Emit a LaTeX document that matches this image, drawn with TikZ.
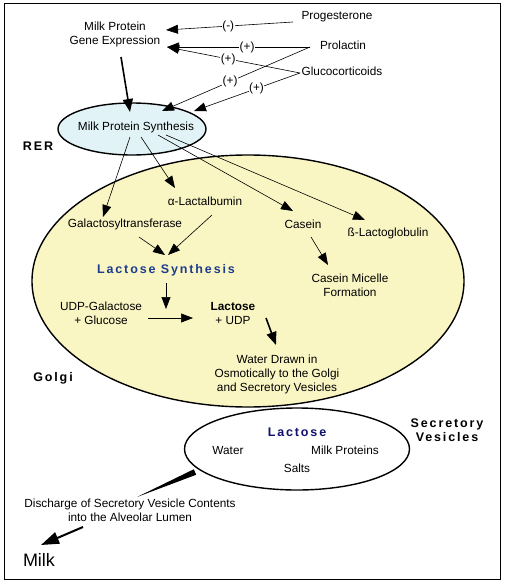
\documentclass[tikz,border=0pt]{standalone}
\usepackage{fontspec}
\setmainfont{Liberation Sans}
\newfontfamily\tagfont{Liberation Sans}[LetterSpace=15]
\usetikzlibrary{arrows.meta,shapes.geometric,positioning,calc}
\definecolor{golgiyellow}{RGB}{250,246,196}
\definecolor{rercyan}{RGB}{226,243,247}
\definecolor{lacblue}{RGB}{28,60,140}
\definecolor{vesnavy}{RGB}{16,16,110}

\begin{document}
\begin{tikzpicture}[x=1pt,y=-1pt,>={Triangle[length=12pt,width=9pt]},
    font=\fontsize{11.8}{14}\selectfont]
    \tikzset{txt/.style={align=center,inner sep=1pt}}
    \tikzset{tag/.style={align=center,inner sep=1pt,font=\tagfont\bfseries\fontsize{12.5}{14}\selectfont}}
    \tikzset{sign/.style={fill=white,inner sep=0.5pt}}
    \tikzset{organelle/.style={draw,ellipse,line width=1.4pt,inner sep=0pt}}
    \tikzset{heavy/.style={line width=1.6pt,-{Triangle[length=13pt,width=10pt]}}}
    \useasboundingbox (0,0) rectangle (508,584);
    \draw[line width=1pt] (4,3) rectangle (500,579);
    % compartments
    \node[organelle,fill=golgiyellow,minimum width=432pt,minimum height=252pt] (golgi) at (248,281) {};
    \node[organelle,fill=rercyan,minimum width=148pt,minimum height=52pt] (rer) at (132,129) {};
    \node[organelle,fill=white,minimum width=225pt,minimum height=82pt] (ves) at (297,449) {};
    % hormones
    \node[txt] (gene) at (115,34) {Milk Protein\\Gene Expression};
    \node[txt] (prog) at (337,17) {Progesterone};
    \node[txt] (prol) at (343,45) {Prolactin};
    \node[txt] (gluc) at (342,71) {Glucocorticoids};
    \node[txt] (mps) at (136,127) {Milk Protein Synthesis};
    \node[tag] (rerlbl) at (38,146) {RER};
    % golgi
    \node[txt] (alac) at (205,201) {α-Lactalbumin};
    \node[txt] (galt) at (125,224) {Galactosyltransferase};
    \node[txt] (cas) at (303,224) {Casein};
    \node[txt] (blg) at (388,233) {ß-Lactoglobulin};
    \node[tag,text=lacblue] (ls) at (166,270) {Lactose Synthesis};
    \node[txt] (mic) at (350,285) {Casein Micelle\\Formation};
    \node[txt] (udp) at (101,313) {UDP-Galactose\\+ Glucose};
    \node[txt] (lac) at (233,313) {\textbf{Lactose}\\+ UDP};
    \node[txt] (wat) at (277,374) {Water Drawn in\\Osmotically to the Golgi\\and Secretory Vesicles};
    \node[tag] (golgilbl) at (53,378) {Golgi};
    % vesicles
    \node[tag,text=vesnavy] (veslac) at (297,432) {Lactose};
    \node[txt] (water) at (228,450) {Water};
    \node[txt] (prot) at (345,450) {Milk Proteins};
    \node[txt] (salt) at (297,468) {Salts};
    \node[tag] (veslbl) at (447,430) {Secretory\\Vesicles};
    \node[txt] (dis) at (130,510) {Discharge of Secretory Vesicle Contents\\into the Alveolar Lumen};
    \node[font=\fontsize{18}{20}\selectfont] (milk) at (39,560) {Milk};
    % connector ends
    \coordinate (progS) at (293,22);
    \coordinate (prolS) at (310,47);
    \coordinate (glucS) at (300,73);
    \coordinate (geneA) at (166,30);
    \coordinate (geneB) at (167,47);
    \coordinate (geneS) at (121,57);
    \coordinate (mpsA) at (162,111);
    \coordinate (mpsB) at (194,111);
    \coordinate (mpsC) at (130,112);
    \coordinate (mpsS1) at (130,137);
    \coordinate (mpsS2) at (141,137);
    \coordinate (mpsS3) at (158,135);
    \coordinate (mpsS4) at (166,135);
    \coordinate (galtT) at (103,217);
    \coordinate (alacT) at (175,188);
    \coordinate (casT) at (293,211);
    \coordinate (blgT) at (365,220);
    \coordinate (galtS) at (139,237);
    \coordinate (alacS) at (212,215);
    \coordinate (lsT1) at (165,255);
    \coordinate (lsT2) at (168,255);
    \coordinate (casS) at (311,237);
    \coordinate (micT) at (328,265);
    \coordinate (lsS) at (166,283);
    \coordinate (lsT3) at (166,309);
    \coordinate (udpS) at (148,318);
    \coordinate (lacT) at (193,318);
    \coordinate (lacS) at (266,318);
    \coordinate (watT) at (276,345);
    \coordinate (vesS) at (195,472);
    \coordinate (disT) at (137,497);
    \coordinate (disS) at (83,527);
    \coordinate (milkT) at (41,545);
    % hormone control
    \path[->,line width=0.6pt]
    (progS)
    edge [] node [sign,pos=.51] {(-)} (geneA)
    (prolS)
    edge [] node [sign,pos=.44] {(+)} (geneB)
    edge [] node [sign,pos=.54] {(+)} (mpsA)
    (glucS)
    edge [] node [sign,pos=.54] {(+)} (geneB)
    edge [] node [sign,pos=.41] {(+)} (mpsB)
    ;
    \draw[heavy] (geneS) -- (mpsC);
    % synthesis
    \path[->,line width=0.6pt]
    (mpsS1) edge [] (galtT)
    (mpsS2) edge [] (alacT)
    (mpsS3) edge [] (casT)
    (mpsS4) edge [] (blgT)
    (galtS) edge [] (lsT1)
    (alacS) edge [] (lsT2)
    (casS) edge [] (micT)
    (lsS) edge [] (lsT3)
    (udpS) edge [] (lacT)
    ;
    \draw[heavy] (lacS) -- (watT);
    % secretion
    \fill (vesS) -- ($(vesS)!3pt!90:(disT)$) -- (disT) -- ($(vesS)!3pt!-90:(disT)$) -- cycle;
    \draw[line width=2pt,-{Triangle[length=18pt,width=12pt]}] (disS) -- (milkT);
\end{tikzpicture}
\end{document}
